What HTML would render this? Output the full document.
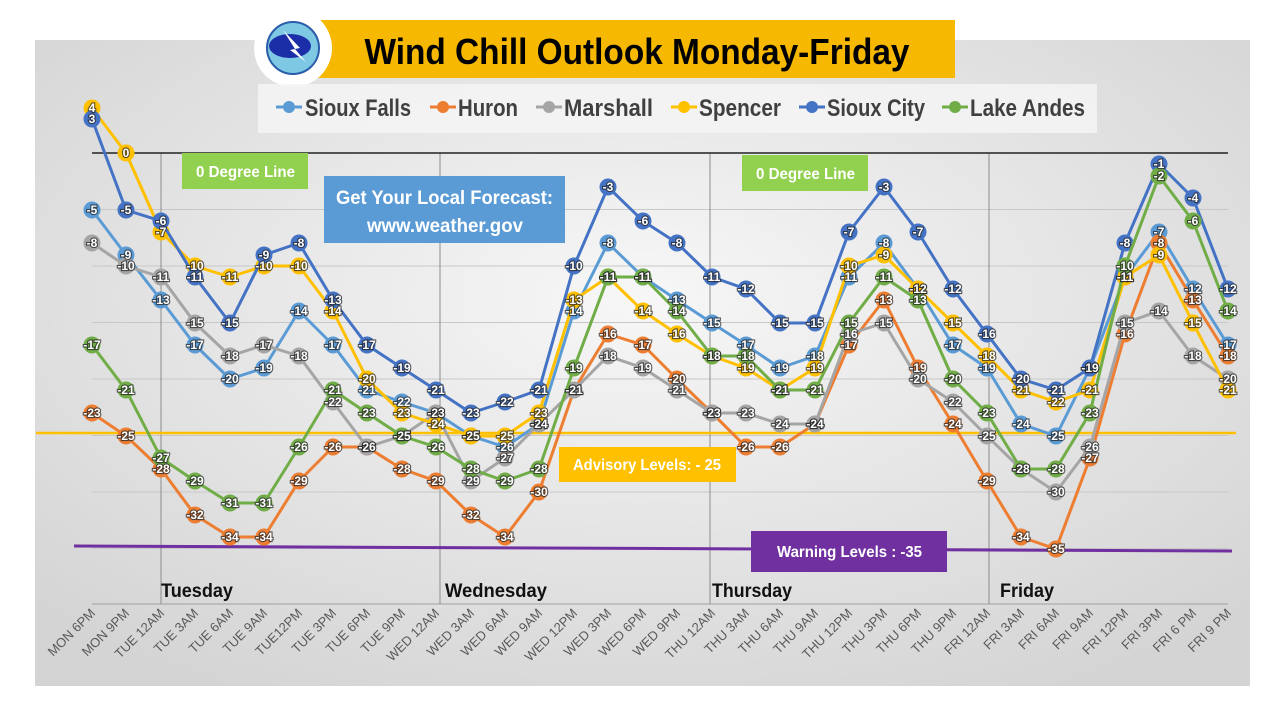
<!DOCTYPE html>
<html><head><meta charset="utf-8"><style>
html,body{margin:0;padding:0;background:#fff}
svg{display:block}
.f{font-family:"Liberation Sans",sans-serif;font-weight:bold}
.lb text{font-family:"Liberation Sans",sans-serif;font-weight:bold;font-size:12px;text-anchor:middle;fill:#fff;stroke:rgba(40,40,40,.75);stroke-width:2.2px;paint-order:stroke}
.xl text{font-family:"Liberation Sans",sans-serif;font-size:13px;fill:#595959;text-anchor:end}
</style></head><body>
<svg width="1280" height="720" viewBox="0 0 1280 720" xmlns="http://www.w3.org/2000/svg">
<defs>
<radialGradient id="bg" cx="50%" cy="40%" r="70%"><stop offset="0" stop-color="#f7f7f7"/><stop offset="1" stop-color="#d4d4d4"/></radialGradient>
<marker id="m1" markerWidth="20" markerHeight="20" refX="10" refY="10" markerUnits="userSpaceOnUse"><circle cx="10" cy="10" r="8.5" fill="#5b9bd5"/></marker>
<marker id="m2" markerWidth="20" markerHeight="20" refX="10" refY="10" markerUnits="userSpaceOnUse"><circle cx="10" cy="10" r="8.5" fill="#ed7d31"/></marker>
<marker id="m3" markerWidth="20" markerHeight="20" refX="10" refY="10" markerUnits="userSpaceOnUse"><circle cx="10" cy="10" r="8.5" fill="#a5a5a5"/></marker>
<marker id="m4" markerWidth="20" markerHeight="20" refX="10" refY="10" markerUnits="userSpaceOnUse"><circle cx="10" cy="10" r="8.5" fill="#ffc000"/></marker>
<marker id="m5" markerWidth="20" markerHeight="20" refX="10" refY="10" markerUnits="userSpaceOnUse"><circle cx="10" cy="10" r="8.5" fill="#4472c4"/></marker>
<marker id="m6" markerWidth="20" markerHeight="20" refX="10" refY="10" markerUnits="userSpaceOnUse"><circle cx="10" cy="10" r="8.5" fill="#70ad47"/></marker>
</defs>
<rect x="35" y="40" width="1215" height="646" fill="url(#bg)"/>
<g stroke="#c8c8c8" stroke-width="1">
<line x1="92" y1="209.5" x2="1228" y2="209.5"/><line x1="92" y1="266" x2="1228" y2="266"/><line x1="92" y1="322.5" x2="1228" y2="322.5"/><line x1="92" y1="379" x2="1228" y2="379"/><line x1="92" y1="435.5" x2="1228" y2="435.5"/><line x1="92" y1="492" x2="1228" y2="492"/><line x1="92" y1="548.5" x2="1228" y2="548.5"/>
</g>
<line x1="92" y1="604" x2="1228" y2="604" stroke="#a0a0a0"/>
<g stroke="#8c8c8c" stroke-width="1"><line x1="161" y1="153" x2="161" y2="604"/><line x1="440" y1="153" x2="440" y2="604"/><line x1="710" y1="153" x2="710" y2="604"/><line x1="989" y1="153" x2="989" y2="604"/></g>
<line x1="92" y1="153" x2="1228" y2="153" stroke="#222" stroke-width="1.5"/>
<line x1="36" y1="433" x2="1236" y2="433" stroke="#ffc000" stroke-width="2.5"/>
<line x1="74" y1="546" x2="1232" y2="551" stroke="#7030a0" stroke-width="3"/>
<rect x="318" y="20" width="637" height="58" fill="#f6b800"/>
<text class="f" x="637" y="64" font-size="36" text-anchor="middle" fill="#000" textLength="545" lengthAdjust="spacingAndGlyphs">Wind Chill Outlook Monday-Friday</text>
<circle cx="293" cy="48" r="39" fill="#fff"/>
<circle cx="293" cy="48" r="26" fill="#7ec8e3" stroke="#2a5caa" stroke-width="2"/>
<ellipse cx="290" cy="46" rx="21" ry="12" fill="#1c2da8"/>
<path d="M283 30 L300 48 L295 49 L306 62 L290 50 L295 49 Z" fill="#fff"/>
<rect x="258" y="84" width="839" height="49" fill="#f4f4f4" opacity="0.85"/>
<g class="f" font-size="24" fill="#404040">
<line x1="276" y1="107" x2="302" y2="107" stroke="#5b9bd5" stroke-width="3"/><circle cx="289" cy="107" r="6" fill="#5b9bd5"/><text x="305" y="116" textLength="106" lengthAdjust="spacingAndGlyphs">Sioux Falls</text>
<line x1="430" y1="107" x2="456" y2="107" stroke="#ed7d31" stroke-width="3"/><circle cx="443" cy="107" r="6" fill="#ed7d31"/><text x="458" y="116" textLength="60" lengthAdjust="spacingAndGlyphs">Huron</text>
<line x1="536" y1="107" x2="562" y2="107" stroke="#a5a5a5" stroke-width="3"/><circle cx="549" cy="107" r="6" fill="#a5a5a5"/><text x="564" y="116" textLength="89" lengthAdjust="spacingAndGlyphs">Marshall</text>
<line x1="671" y1="107" x2="697" y2="107" stroke="#ffc000" stroke-width="3"/><circle cx="684" cy="107" r="6" fill="#ffc000"/><text x="699" y="116" textLength="82" lengthAdjust="spacingAndGlyphs">Spencer</text>
<line x1="799" y1="107" x2="825" y2="107" stroke="#4472c4" stroke-width="3"/><circle cx="812" cy="107" r="6" fill="#4472c4"/><text x="827" y="116" textLength="98" lengthAdjust="spacingAndGlyphs">Sioux City</text>
<line x1="942" y1="107" x2="968" y2="107" stroke="#70ad47" stroke-width="3"/><circle cx="955" cy="107" r="6" fill="#70ad47"/><text x="970" y="116" textLength="115" lengthAdjust="spacingAndGlyphs">Lake Andes</text>
</g>
<rect x="182" y="153" width="126" height="36" fill="#92d050"/><text class="f" x="196" y="177" font-size="16" fill="#fff" textLength="99" lengthAdjust="spacingAndGlyphs">0 Degree Line</text>
<rect x="742" y="155" width="126" height="36" fill="#92d050"/><text class="f" x="756" y="179" font-size="16" fill="#fff" textLength="99" lengthAdjust="spacingAndGlyphs">0 Degree Line</text>
<rect x="324" y="176" width="241" height="67" fill="#5b9bd5"/><text class="f" x="336" y="204" font-size="19" fill="#fff" textLength="217" lengthAdjust="spacingAndGlyphs">Get Your Local Forecast:</text><text class="f" x="367" y="232" font-size="19" fill="#fff" textLength="156" lengthAdjust="spacingAndGlyphs">www.weather.gov</text>
<rect x="559" y="447" width="177" height="35" fill="#ffc000"/><text class="f" x="573" y="470" font-size="16" fill="#fff" textLength="148" lengthAdjust="spacingAndGlyphs">Advisory Levels:  - 25</text>
<rect x="751" y="531" width="196" height="41" fill="#7030a0"/><text class="f" x="777" y="557" font-size="16" fill="#fff" textLength="145" lengthAdjust="spacingAndGlyphs">Warning Levels : -35</text>
<g class="f" font-size="19" fill="#111"><text x="161" y="597" textLength="72" lengthAdjust="spacingAndGlyphs">Tuesday</text><text x="445" y="597" textLength="102" lengthAdjust="spacingAndGlyphs">Wednesday</text><text x="712" y="597" textLength="80" lengthAdjust="spacingAndGlyphs">Thursday</text><text x="1000" y="597" textLength="54" lengthAdjust="spacingAndGlyphs">Friday</text></g>
<g fill="none" stroke-width="3" stroke-linejoin="round">
<polyline stroke="#5b9bd5" marker-start="url(#m1)" marker-mid="url(#m1)" marker-end="url(#m1)" points="92,210 126,255 161,300 195,345 230,379 264,368 299,311 333,345 367,390 402,402 436,413 471,436 505,447 539,424 574,311 608,243 643,277 677,300 712,323 746,345 780,368 815,356 849,277 884,243 918,289 953,345 987,368 1021,424 1056,436 1090,368 1125,277 1159,232 1193,289 1228,345"/>
<polyline stroke="#ed7d31" marker-start="url(#m2)" marker-mid="url(#m2)" marker-end="url(#m2)" points="92,413 126,436 161,469 195,515 230,537 264,537 299,481 333,447 367,447 402,469 436,481 471,515 505,537 539,492 574,390 608,334 643,345 677,379 712,413 746,447 780,447 815,424 849,345 884,300 918,368 953,424 987,481 1021,537 1056,549 1090,458 1125,334 1159,243 1193,300 1228,356"/>
<polyline stroke="#a5a5a5" marker-start="url(#m3)" marker-mid="url(#m3)" marker-end="url(#m3)" points="92,243 126,266 161,277 195,323 230,356 264,345 299,356 333,402 367,447 402,436 436,413 471,481 505,458 539,424 574,390 608,356 643,368 677,390 712,413 746,413 780,424 815,424 849,334 884,323 918,379 953,402 987,436 1021,469 1056,492 1090,447 1125,323 1159,311 1193,356 1228,379"/>
<polyline stroke="#ffc000" marker-start="url(#m4)" marker-mid="url(#m4)" marker-end="url(#m4)" points="92,108 126,153 161,232 195,266 230,277 264,266 299,266 333,311 367,379 402,413 436,424 471,436 505,436 539,413 574,300 608,277 643,311 677,334 712,356 746,368 780,390 815,368 849,266 884,255 918,289 953,323 987,356 1021,390 1056,402 1090,390 1125,277 1159,255 1193,323 1228,390"/>
<polyline stroke="#4472c4" marker-start="url(#m5)" marker-mid="url(#m5)" marker-end="url(#m5)" points="92,119 126,210 161,221 195,277 230,323 264,255 299,243 333,300 367,345 402,368 436,390 471,413 505,402 539,390 574,266 608,187 643,221 677,243 712,277 746,289 780,323 815,323 849,232 884,187 918,232 953,289 987,334 1021,379 1056,390 1090,368 1125,243 1159,164 1193,198 1228,289"/>
<polyline stroke="#70ad47" marker-start="url(#m6)" marker-mid="url(#m6)" marker-end="url(#m6)" points="92,345 126,390 161,458 195,481 230,503 264,503 299,447 333,390 367,413 402,436 436,447 471,469 505,481 539,469 574,368 608,277 643,277 677,311 712,356 746,356 780,390 815,390 849,323 884,277 918,300 953,379 987,413 1021,469 1056,469 1090,413 1125,266 1159,176 1193,221 1228,311"/>
</g>
<g class="lb">
<text x="92" y="214">-5</text><text x="126" y="259">-9</text><text x="161" y="304">-13</text><text x="195" y="349">-17</text><text x="230" y="383">-20</text><text x="264" y="372">-19</text><text x="299" y="315">-14</text><text x="333" y="349">-17</text><text x="367" y="394">-21</text><text x="402" y="406">-22</text><text x="436" y="417">-23</text><text x="471" y="440">-25</text><text x="505" y="451">-26</text><text x="539" y="428">-24</text><text x="574" y="315">-14</text><text x="608" y="247">-8</text><text x="643" y="281">-11</text><text x="677" y="304">-13</text><text x="712" y="327">-15</text><text x="746" y="349">-17</text><text x="780" y="372">-19</text><text x="815" y="360">-18</text><text x="849" y="281">-11</text><text x="884" y="247">-8</text><text x="918" y="293">-12</text><text x="953" y="349">-17</text><text x="987" y="372">-19</text><text x="1021" y="428">-24</text><text x="1056" y="440">-25</text><text x="1090" y="372">-19</text><text x="1125" y="281">-11</text><text x="1159" y="236">-7</text><text x="1193" y="293">-12</text><text x="1228" y="349">-17</text>
<text x="92" y="417">-23</text><text x="126" y="440">-25</text><text x="161" y="473">-28</text><text x="195" y="519">-32</text><text x="230" y="541">-34</text><text x="264" y="541">-34</text><text x="299" y="485">-29</text><text x="333" y="451">-26</text><text x="367" y="451">-26</text><text x="402" y="473">-28</text><text x="436" y="485">-29</text><text x="471" y="519">-32</text><text x="505" y="541">-34</text><text x="539" y="496">-30</text><text x="574" y="394">-21</text><text x="608" y="338">-16</text><text x="643" y="349">-17</text><text x="677" y="383">-20</text><text x="712" y="417">-23</text><text x="746" y="451">-26</text><text x="780" y="451">-26</text><text x="815" y="428">-24</text><text x="849" y="349">-17</text><text x="884" y="304">-13</text><text x="918" y="372">-19</text><text x="953" y="428">-24</text><text x="987" y="485">-29</text><text x="1021" y="541">-34</text><text x="1056" y="553">-35</text><text x="1090" y="462">-27</text><text x="1125" y="338">-16</text><text x="1159" y="247">-8</text><text x="1193" y="304">-13</text><text x="1228" y="360">-18</text>
<text x="92" y="247">-8</text><text x="126" y="270">-10</text><text x="161" y="281">-11</text><text x="195" y="327">-15</text><text x="230" y="360">-18</text><text x="264" y="349">-17</text><text x="299" y="360">-18</text><text x="333" y="406">-22</text><text x="367" y="451">-26</text><text x="402" y="440">-25</text><text x="436" y="417">-23</text><text x="471" y="485">-29</text><text x="505" y="462">-27</text><text x="539" y="428">-24</text><text x="574" y="394">-21</text><text x="608" y="360">-18</text><text x="643" y="372">-19</text><text x="677" y="394">-21</text><text x="712" y="417">-23</text><text x="746" y="417">-23</text><text x="780" y="428">-24</text><text x="815" y="428">-24</text><text x="849" y="338">-16</text><text x="884" y="327">-15</text><text x="918" y="383">-20</text><text x="953" y="406">-22</text><text x="987" y="440">-25</text><text x="1021" y="473">-28</text><text x="1056" y="496">-30</text><text x="1090" y="451">-26</text><text x="1125" y="327">-15</text><text x="1159" y="315">-14</text><text x="1193" y="360">-18</text><text x="1228" y="383">-20</text>
<text x="92" y="112">4</text><text x="126" y="157">0</text><text x="161" y="236">-7</text><text x="195" y="270">-10</text><text x="230" y="281">-11</text><text x="264" y="270">-10</text><text x="299" y="270">-10</text><text x="333" y="315">-14</text><text x="367" y="383">-20</text><text x="402" y="417">-23</text><text x="436" y="428">-24</text><text x="471" y="440">-25</text><text x="505" y="440">-25</text><text x="539" y="417">-23</text><text x="574" y="304">-13</text><text x="608" y="281">-11</text><text x="643" y="315">-14</text><text x="677" y="338">-16</text><text x="712" y="360">-18</text><text x="746" y="372">-19</text><text x="780" y="394">-21</text><text x="815" y="372">-19</text><text x="849" y="270">-10</text><text x="884" y="259">-9</text><text x="918" y="293">-12</text><text x="953" y="327">-15</text><text x="987" y="360">-18</text><text x="1021" y="394">-21</text><text x="1056" y="406">-22</text><text x="1090" y="394">-21</text><text x="1125" y="281">-11</text><text x="1159" y="259">-9</text><text x="1193" y="327">-15</text><text x="1228" y="394">-21</text>
<text x="92" y="123">3</text><text x="126" y="214">-5</text><text x="161" y="225">-6</text><text x="195" y="281">-11</text><text x="230" y="327">-15</text><text x="264" y="259">-9</text><text x="299" y="247">-8</text><text x="333" y="304">-13</text><text x="367" y="349">-17</text><text x="402" y="372">-19</text><text x="436" y="394">-21</text><text x="471" y="417">-23</text><text x="505" y="406">-22</text><text x="539" y="394">-21</text><text x="574" y="270">-10</text><text x="608" y="191">-3</text><text x="643" y="225">-6</text><text x="677" y="247">-8</text><text x="712" y="281">-11</text><text x="746" y="293">-12</text><text x="780" y="327">-15</text><text x="815" y="327">-15</text><text x="849" y="236">-7</text><text x="884" y="191">-3</text><text x="918" y="236">-7</text><text x="953" y="293">-12</text><text x="987" y="338">-16</text><text x="1021" y="383">-20</text><text x="1056" y="394">-21</text><text x="1090" y="372">-19</text><text x="1125" y="247">-8</text><text x="1159" y="168">-1</text><text x="1193" y="202">-4</text><text x="1228" y="293">-12</text>
<text x="92" y="349">-17</text><text x="126" y="394">-21</text><text x="161" y="462">-27</text><text x="195" y="485">-29</text><text x="230" y="507">-31</text><text x="264" y="507">-31</text><text x="299" y="451">-26</text><text x="333" y="394">-21</text><text x="367" y="417">-23</text><text x="402" y="440">-25</text><text x="436" y="451">-26</text><text x="471" y="473">-28</text><text x="505" y="485">-29</text><text x="539" y="473">-28</text><text x="574" y="372">-19</text><text x="608" y="281">-11</text><text x="643" y="281">-11</text><text x="677" y="315">-14</text><text x="712" y="360">-18</text><text x="746" y="360">-18</text><text x="780" y="394">-21</text><text x="815" y="394">-21</text><text x="849" y="327">-15</text><text x="884" y="281">-11</text><text x="918" y="304">-13</text><text x="953" y="383">-20</text><text x="987" y="417">-23</text><text x="1021" y="473">-28</text><text x="1056" y="473">-28</text><text x="1090" y="417">-23</text><text x="1125" y="270">-10</text><text x="1159" y="180">-2</text><text x="1193" y="225">-6</text><text x="1228" y="315">-14</text>
</g>
<g class="xl">
<text transform="translate(96,614) rotate(-45)">MON 6PM</text><text transform="translate(130,614) rotate(-45)">MON 9PM</text><text transform="translate(165,614) rotate(-45)">TUE 12AM</text><text transform="translate(199,614) rotate(-45)">TUE 3AM</text><text transform="translate(234,614) rotate(-45)">TUE 6AM</text><text transform="translate(268,614) rotate(-45)">TUE 9AM</text><text transform="translate(303,614) rotate(-45)">TUE12PM</text><text transform="translate(337,614) rotate(-45)">TUE 3PM</text><text transform="translate(371,614) rotate(-45)">TUE 6PM</text><text transform="translate(406,614) rotate(-45)">TUE 9PM</text><text transform="translate(440,614) rotate(-45)">WED 12AM</text><text transform="translate(475,614) rotate(-45)">WED 3AM</text><text transform="translate(509,614) rotate(-45)">WED 6AM</text><text transform="translate(543,614) rotate(-45)">WED 9AM</text><text transform="translate(578,614) rotate(-45)">WED 12PM</text><text transform="translate(612,614) rotate(-45)">WED 3PM</text><text transform="translate(647,614) rotate(-45)">WED 6PM</text><text transform="translate(681,614) rotate(-45)">WED 9PM</text><text transform="translate(716,614) rotate(-45)">THU 12AM</text><text transform="translate(750,614) rotate(-45)">THU 3AM</text><text transform="translate(784,614) rotate(-45)">THU 6AM</text><text transform="translate(819,614) rotate(-45)">THU 9AM</text><text transform="translate(853,614) rotate(-45)">THU 12PM</text><text transform="translate(888,614) rotate(-45)">THU 3PM</text><text transform="translate(922,614) rotate(-45)">THU 6PM</text><text transform="translate(957,614) rotate(-45)">THU 9PM</text><text transform="translate(991,614) rotate(-45)">FRI 12AM</text><text transform="translate(1025,614) rotate(-45)">FRI 3AM</text><text transform="translate(1060,614) rotate(-45)">FRI 6AM</text><text transform="translate(1094,614) rotate(-45)">FRI 9AM</text><text transform="translate(1129,614) rotate(-45)">FRI 12PM</text><text transform="translate(1163,614) rotate(-45)">FRI 3PM</text><text transform="translate(1197,614) rotate(-45)">FRI 6 PM</text><text transform="translate(1232,614) rotate(-45)">FRI 9 PM</text>
</g>
</svg>
</body></html>
